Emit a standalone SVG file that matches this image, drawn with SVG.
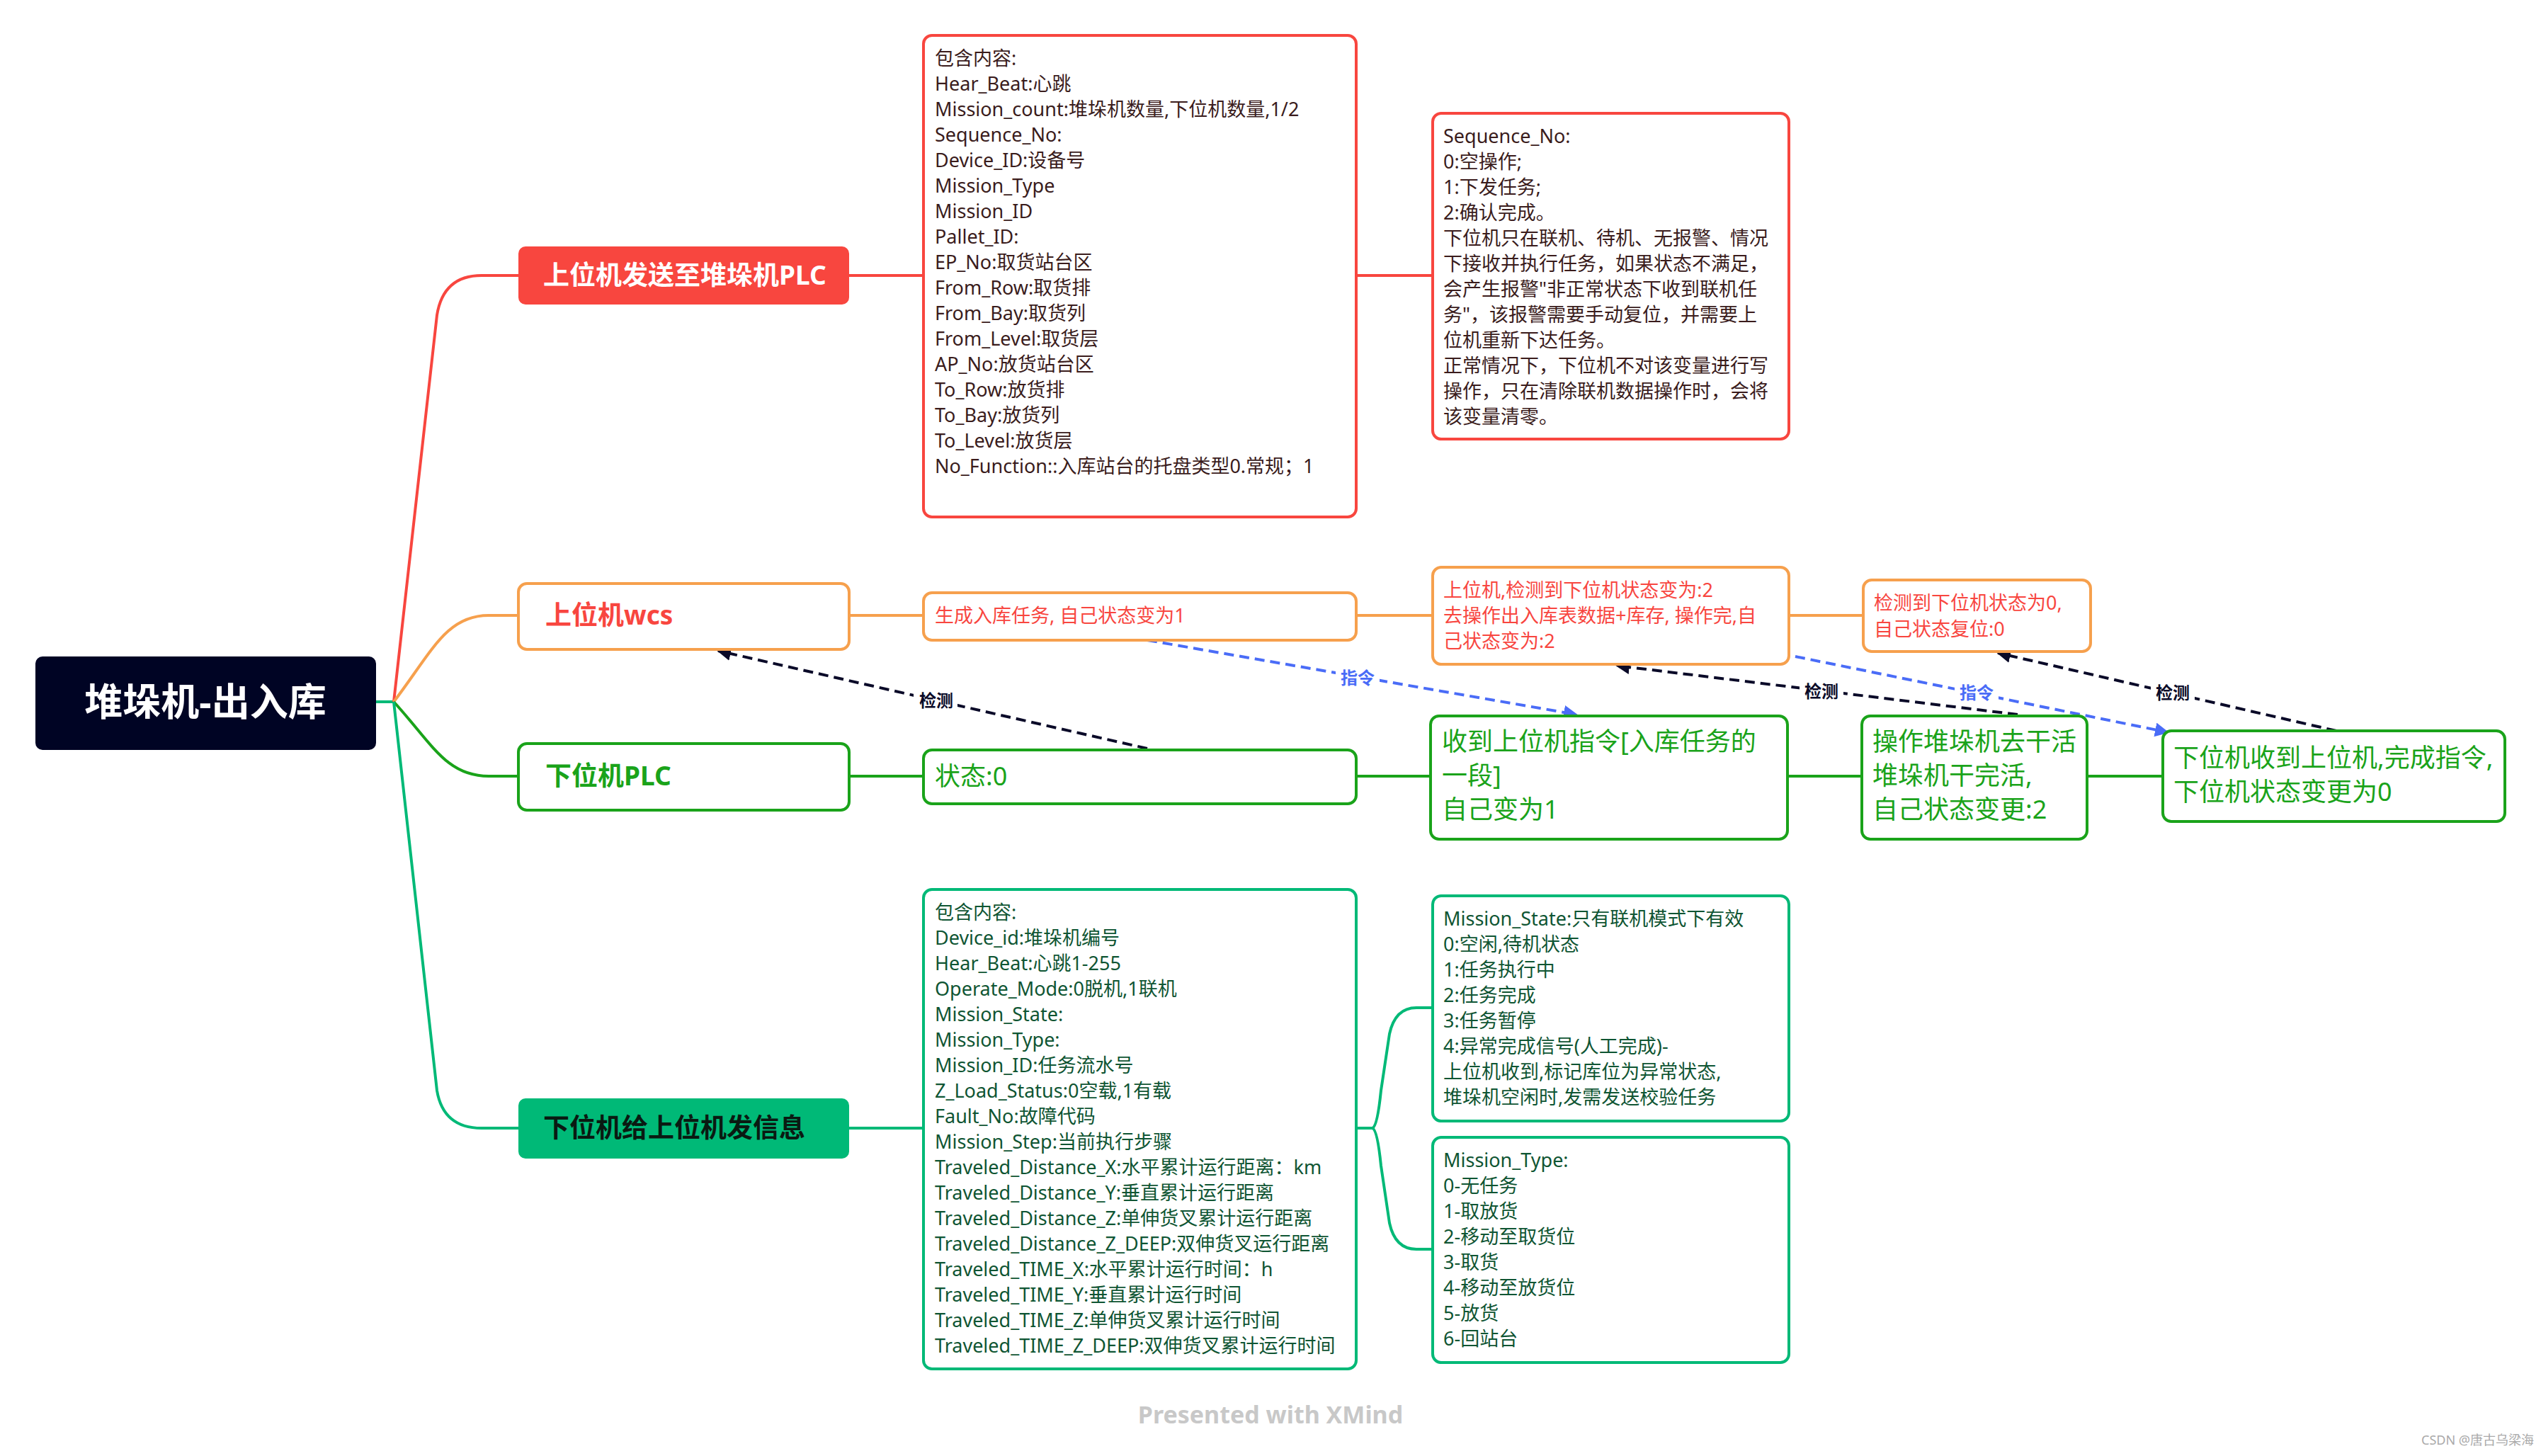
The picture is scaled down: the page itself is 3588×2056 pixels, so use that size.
<svg xmlns="http://www.w3.org/2000/svg" width="3588" height="2056" viewBox="0 0 3588 2056">
<style>
text{font-family:"Noto Sans","Noto Sans CJK SC",sans-serif}
.t{font-size:27px}
.big{font-size:36px;fill:#1aa31a}
.lbl{font-size:37px;font-weight:bold}
.rt{fill:#3a1c1c}.ot{fill:#f8463f}.gt{fill:#0f5533}
.bx{fill:#fff;stroke-width:4}
.r{stroke:#f8463f}.o{stroke:#f6a04d}.g{stroke:#1aa31a}.tl{stroke:#00b977}
.ln{fill:none;stroke-width:4}
.dk{fill:none;stroke:#0a0a28;stroke-width:4;stroke-dasharray:14 8}
.bl{fill:none;stroke:#4a6cf7;stroke-width:4;stroke-dasharray:14 8}
.cl{font-size:24px;font-weight:bold}
</style>
<defs>
<marker id="ak" viewBox="0 0 10 10" refX="9" refY="5" markerWidth="5" markerHeight="5" orient="auto"><path d="M0,0L10,5L0,10z" fill="#0a0a28"/></marker>
<marker id="ab" viewBox="0 0 10 10" refX="9" refY="5" markerWidth="5" markerHeight="5" orient="auto"><path d="M0,0L10,5L0,10z" fill="#4a6cf7"/></marker>
</defs>
<rect width="3588" height="2056" fill="#fff"/>
<g id="connectors">
<path class="ln" stroke="#00b977" d="M531,991L556,991"/>
<path class="ln r" d="M556,991L617,445Q626,389 680,389L732,389"/>
<path class="ln o" d="M556,991C610,920 630,869 690,869L732,869"/>
<path class="ln g" d="M556,991C610,1050 630,1096 690,1096L732,1096"/>
<path class="ln tl" d="M556,991L617,1540Q626,1593 680,1593L732,1593"/>
<path class="ln r" d="M1199,389H1304M1915,389H2023"/>
<path class="ln o" d="M1199,869H1304M1915,869H2023M2526,869H2631"/>
<path class="ln g" d="M1199,1096H1304M1915,1096H2020M2524,1096H2629M2947,1096H3054"/>
<path class="ln tl" d="M1199,1593H1304M1915,1593H1938"/>
<path class="ln tl" d="M1938,1593Q1945,1590 1950,1540L1962,1460Q1970,1423 2000,1423L2023,1423"/>
<path class="ln tl" d="M1938,1593Q1945,1596 1950,1646L1962,1727Q1970,1764 2000,1764L2023,1764"/>
<path class="dk" marker-end="url(#ak)" d="M1620,1057L1014,919"/>
<path class="bl" marker-end="url(#ab)" d="M1620,904L2226,1009"/>
<path class="dk" marker-end="url(#ak)" d="M2849,1009L2283,940"/>
<path class="bl" marker-end="url(#ab)" d="M2535,927L3061,1034"/>
<path class="dk" marker-end="url(#ak)" d="M3299,1032L2821,922"/>
<g class="cl">
<rect x="1290" y="972" width="62" height="32" fill="#fff"/><text x="1322" y="998" text-anchor="middle" fill="#0a0a28">检测</text>
<rect x="1886" y="940" width="62" height="32" fill="#fff"/><text x="1917" y="966" text-anchor="middle" fill="#4a6cf7">指令</text>
<rect x="2541" y="959" width="62" height="32" fill="#fff"/><text x="2572" y="985" text-anchor="middle" fill="#0a0a28">检测</text>
<rect x="2760" y="961" width="62" height="32" fill="#fff"/><text x="2791" y="987" text-anchor="middle" fill="#4a6cf7">指令</text>
<rect x="3037" y="961" width="62" height="32" fill="#fff"/><text x="3068" y="987" text-anchor="middle" fill="#0a0a28">检测</text>
</g>
</g>
<g id="root"><rect x="50" y="927" width="481" height="132" rx="10" fill="#000424"/><text x="290" y="1011" text-anchor="middle" font-size="54" font-weight="bold" fill="#fff">堆垛机-出入库</text></g>
<g id="n1"><rect x="732" y="348" width="467" height="82" rx="10" fill="#f8463f"/><text class="lbl" x="767" y="402" fill="#fff">上位机发送至堆垛机PLC</text></g>
<g id="n2"><rect class="bx o" x="732" y="824" width="467" height="93" rx="12"/><text class="lbl" x="770" y="882" fill="#f8463f">上位机wcs</text></g>
<g id="n3"><rect class="bx g" x="732" y="1050" width="467" height="94" rx="12"/><text class="lbl" x="770" y="1109" fill="#1aa31a">下位机PLC</text></g>
<g id="n4"><rect x="732" y="1551" width="467" height="85" rx="10" fill="#00b977"/><text class="lbl" x="767" y="1606" fill="#0a1a12">下位机给上位机发信息</text></g>
<g id="r1"><rect class="bx r" x="1304" y="50" width="611" height="680" rx="12"/>
<text class="t rt" x="1320" y="92">包含内容:<tspan x="1320" dy="36">Hear_Beat:心跳</tspan><tspan x="1320" dy="36">Mission_count:堆垛机数量,下位机数量,1/2</tspan><tspan x="1320" dy="36">Sequence_No:</tspan><tspan x="1320" dy="36">Device_ID:设备号</tspan><tspan x="1320" dy="36">Mission_Type</tspan><tspan x="1320" dy="36">Mission_ID</tspan><tspan x="1320" dy="36">Pallet_ID:</tspan><tspan x="1320" dy="36">EP_No:取货站台区</tspan><tspan x="1320" dy="36">From_Row:取货排</tspan><tspan x="1320" dy="36">From_Bay:取货列</tspan><tspan x="1320" dy="36">From_Level:取货层</tspan><tspan x="1320" dy="36">AP_No:放货站台区</tspan><tspan x="1320" dy="36">To_Row:放货排</tspan><tspan x="1320" dy="36">To_Bay:放货列</tspan><tspan x="1320" dy="36">To_Level:放货层</tspan><tspan x="1320" dy="36">No_Function::入库站台的托盘类型0.常规；1</tspan></text></g>
<g id="r2"><rect class="bx r" x="2023" y="160" width="503" height="460" rx="12"/>
<text class="t rt" x="2038" y="202">Sequence_No:<tspan x="2038" dy="36">0:空操作;</tspan><tspan x="2038" dy="36">1:下发任务;</tspan><tspan x="2038" dy="36">2:确认完成。</tspan><tspan x="2038" dy="36">下位机只在联机、待机、无报警、情况</tspan><tspan x="2038" dy="36">下接收并执行任务，如果状态不满足，</tspan><tspan x="2038" dy="36">会产生报警"非正常状态下收到联机任</tspan><tspan x="2038" dy="36">务"，该报警需要手动复位，并需要上</tspan><tspan x="2038" dy="36">位机重新下达任务。</tspan><tspan x="2038" dy="36">正常情况下，下位机不对该变量进行写</tspan><tspan x="2038" dy="36">操作，只在清除联机数据操作时，会将</tspan><tspan x="2038" dy="36">该变量清零。</tspan></text></g>
<g id="o1"><rect class="bx o" x="1304" y="837" width="611" height="67" rx="12"/><text class="t ot" x="1320" y="879">生成入库任务, 自己状态变为1</text></g>
<g id="o2"><rect class="bx o" x="2023" y="801" width="503" height="137" rx="12"/><text class="t ot" x="2038" y="843">上位机,检测到下位机状态变为:2<tspan x="2038" dy="36">去操作出入库表数据+库存, 操作完,自</tspan><tspan x="2038" dy="36">己状态变为:2</tspan></text></g>
<g id="o3"><rect class="bx o" x="2631" y="819" width="321" height="101" rx="12"/><text class="t ot" x="2646" y="861">检测到下位机状态为0,<tspan x="2646" dy="37">自己状态复位:0</tspan></text></g>
<g id="g1"><rect class="bx g" x="1304" y="1059" width="611" height="76" rx="12"/><text class="big" x="1320" y="1109">状态:0</text></g>
<g id="g2"><rect class="bx g" x="2020" y="1011" width="504" height="174" rx="12"/><text class="big" x="2036" y="1060">收到上位机指令[入库任务的<tspan x="2036" dy="48">一段]</tspan><tspan x="2036" dy="48">自己变为1</tspan></text></g>
<g id="g3"><rect class="bx g" x="2629" y="1011" width="318" height="174" rx="12"/><text class="big" x="2644" y="1060">操作堆垛机去干活<tspan x="2644" dy="48">堆垛机干完活,</tspan><tspan x="2644" dy="48">自己状态变更:2</tspan></text></g>
<g id="g4"><rect class="bx g" x="3054" y="1032" width="483" height="128" rx="12"/><text class="big" x="3069" y="1083">下位机收到上位机,完成指令,<tspan x="3069" dy="48">下位机状态变更为0</tspan></text></g>
<g id="t1"><rect class="bx tl" x="1304" y="1256" width="611" height="677" rx="12"/>
<text class="t gt" x="1320" y="1298">包含内容:<tspan x="1320" dy="36">Device_id:堆垛机编号</tspan><tspan x="1320" dy="36">Hear_Beat:心跳1-255</tspan><tspan x="1320" dy="36">Operate_Mode:0脱机,1联机</tspan><tspan x="1320" dy="36">Mission_State:</tspan><tspan x="1320" dy="36">Mission_Type:</tspan><tspan x="1320" dy="36">Mission_ID:任务流水号</tspan><tspan x="1320" dy="36">Z_Load_Status:0空载,1有载</tspan><tspan x="1320" dy="36">Fault_No:故障代码</tspan><tspan x="1320" dy="36">Mission_Step:当前执行步骤</tspan><tspan x="1320" dy="36">Traveled_Distance_X:水平累计运行距离：km</tspan><tspan x="1320" dy="36">Traveled_Distance_Y:垂直累计运行距离</tspan><tspan x="1320" dy="36">Traveled_Distance_Z:单伸货叉累计运行距离</tspan><tspan x="1320" dy="36">Traveled_Distance_Z_DEEP:双伸货叉运行距离</tspan><tspan x="1320" dy="36">Traveled_TIME_X:水平累计运行时间：h</tspan><tspan x="1320" dy="36">Traveled_TIME_Y:垂直累计运行时间</tspan><tspan x="1320" dy="36">Traveled_TIME_Z:单伸货叉累计运行时间</tspan><tspan x="1320" dy="36">Traveled_TIME_Z_DEEP:双伸货叉累计运行时间</tspan></text></g>
<g id="t2"><rect class="bx tl" x="2023" y="1265" width="503" height="318" rx="12"/>
<text class="t gt" x="2038" y="1307">Mission_State:只有联机模式下有效<tspan x="2038" dy="36">0:空闲,待机状态</tspan><tspan x="2038" dy="36">1:任务执行中</tspan><tspan x="2038" dy="36">2:任务完成</tspan><tspan x="2038" dy="36">3:任务暂停</tspan><tspan x="2038" dy="36">4:异常完成信号(人工完成)-</tspan><tspan x="2038" dy="36">上位机收到,标记库位为异常状态,</tspan><tspan x="2038" dy="36">堆垛机空闲时,发需发送校验任务</tspan></text></g>
<g id="t3"><rect class="bx tl" x="2023" y="1606" width="503" height="318" rx="12"/>
<text class="t gt" x="2038" y="1648">Mission_Type:<tspan x="2038" dy="36">0-无任务</tspan><tspan x="2038" dy="36">1-取放货</tspan><tspan x="2038" dy="36">2-移动至取货位</tspan><tspan x="2038" dy="36">3-取货</tspan><tspan x="2038" dy="36">4-移动至放货位</tspan><tspan x="2038" dy="36">5-放货</tspan><tspan x="2038" dy="36">6-回站台</tspan></text></g>
<text x="1794" y="2010" text-anchor="middle" font-size="34" font-weight="bold" fill="#c8c8c8">Presented with XMind</text>
<text x="3578" y="2040" text-anchor="end" font-size="18" fill="#aaaaaa">CSDN @唐古乌梁海</text>
</svg>
